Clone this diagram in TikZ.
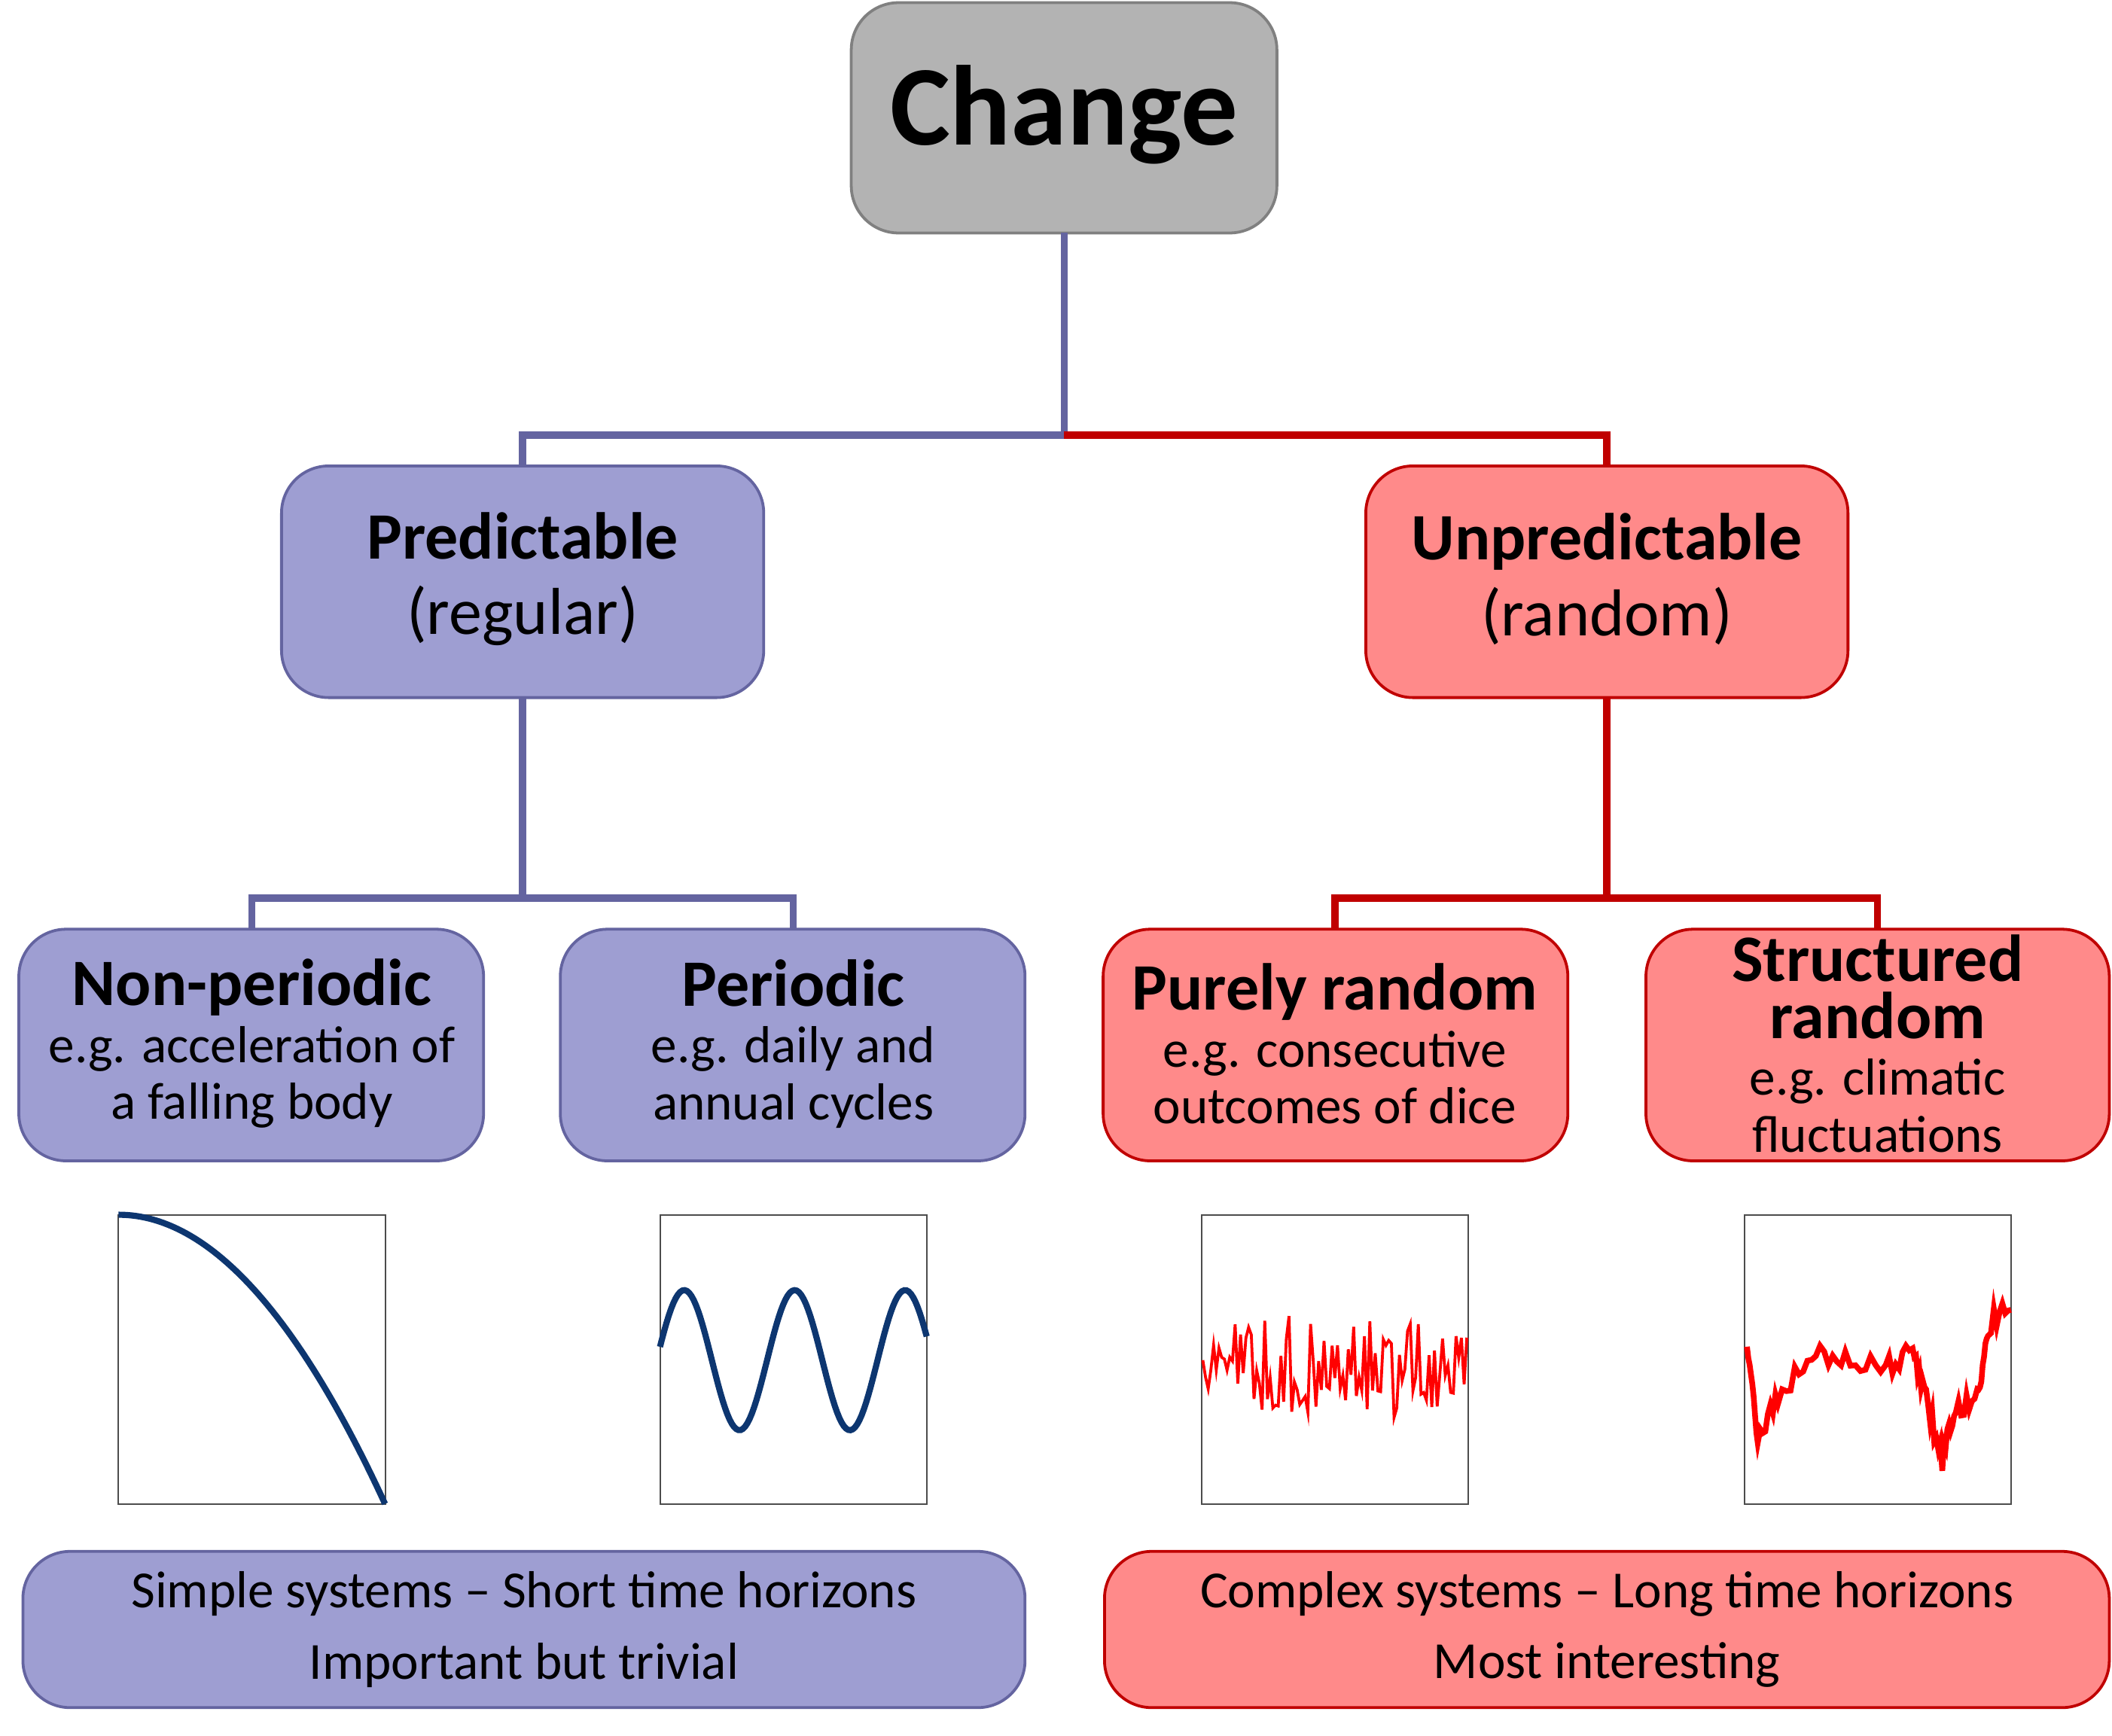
\documentclass[tikz,border=0pt]{standalone}
\usepackage{fontspec}
\setmainfont{Carlito}
\definecolor{bfill}{HTML}{9E9ED2}
\definecolor{bline}{HTML}{6464A0}
\definecolor{rfill}{HTML}{FF8A8A}
\definecolor{rline}{HTML}{C00000}
\definecolor{gfill}{HTML}{B3B3B3}
\definecolor{cdark}{HTML}{0D3670}
\newcommand{\hdfont}{\fontsize{14}{16}\selectfont\bfseries}
\newcommand{\smfont}{\fontsize{11}{12.2}\selectfont\mdseries}
\begin{document}
\begin{tikzpicture}[x=0.01cm,y=-0.01cm,
  box/.style={rounded corners=0.35cm,line width=0.6pt},
  bbox/.style={box,fill=bfill,draw=bline},
  rbox/.style={box,fill=rfill,draw=rline},
  bcon/.style={draw=bline,line width=1.5pt},
  rcon/.style={draw=rline,line width=1.5pt},
  lbl/.style={align=center,inner sep=0},
  plotbox/.style={draw=black!70,line width=0.3pt}]
\useasboundingbox (0,0) rectangle (1568,1289);
% boxes
\draw[box,fill=gfill,draw=black!50] (632,2) rectangle (948,173);
\node[lbl] (ch) at (790,85) {\fontsize{24}{28}\selectfont\bfseries Change};
\draw[bbox] (209,346) rectangle (567,518);
\node[lbl,font=\fontsize{14}{16}\selectfont] (pr) at (388,430) {\textbf{Predictable}\\(regular)};
\draw[rbox] (1014,346) rectangle (1372,518);
\node[lbl,font=\fontsize{14}{16}\selectfont] (un) at (1193,430) {\textbf{Unpredictable}\\(random)};
\draw[bbox] (14,690) rectangle (359,862);
\node[lbl] (np) at (187,775) {\hdfont Non-periodic\\ \smfont e.g. acceleration of\\ \smfont a falling body};
\draw[bbox] (416,690) rectangle (761,862);
\node[lbl] (pe) at (589,775) {\hdfont Periodic\\ \smfont e.g. daily and\\ \smfont annual cycles};
\draw[rbox] (819,690) rectangle (1164,862);
\node[lbl] (pu) at (991,775) {\hdfont Purely random\\ \smfont e.g. consecutive\\ \smfont outcomes of dice};
\draw[rbox] (1222,690) rectangle (1566,862);
\node[lbl] (st) at (1394,775) {\hdfont Structured\\ \hdfont random\\ \smfont e.g. climatic\\ \smfont fluctuations};
\draw[bbox] (17,1152) rectangle (761,1268);
\node[lbl,font=\fontsize{11}{15}\selectfont] (b1) at (389,1210) {Simple systems -- Short time horizons\\ Important but trivial};
\draw[rbox] (820,1152) rectangle (1566,1268);
\node[lbl,font=\fontsize{11}{15}\selectfont] (b2) at (1193,1210) {Complex systems -- Long time horizons\\ Most interesting};
% connectors
\draw[bcon] (790,173) -- (790,323) -- (388,323) -- (388,346);
\draw[rcon] (790,323) -- (1193,323) -- (1193,346);
\draw[bcon] (388,518) -- (388,667) -- (187,667) -- (187,690);
\draw[bcon] (388,667) -- (589,667) -- (589,690);
\draw[rcon] (1193,518) -- (1193,667) -- (991,667) -- (991,690);
\draw[rcon] (1193,667) -- (1394,667) -- (1394,690);
% plot boxes
\draw[plotbox] (88,902) rectangle (286,1117);
\draw[plotbox] (490,902) rectangle (688,1117);
\draw[plotbox] (892,902) rectangle (1090,1117);
\draw[plotbox] (1295,902) rectangle (1493,1117);
% curves
\draw[cdark,line width=1.3pt,domain=0:1,samples=60] plot ({88+198*\x},{902+215*\x*\x});
\draw[cdark,line width=1.3pt,domain=0:198,samples=120] plot ({490+\x},{1010-52*cos(4.39*(\x-18))});
\pgfmathsetseed{7}
\draw[red,line width=0.6pt] (893,1010) \foreach \i in {895,897,...,1089} { -- (\i,{1015+35*rand+15*rand*rand*rand}) };
\pgfmathsetseed{11}
\draw[red,line width=1.2pt] (1297,1000)
 \foreach \xa/\ya/\xb/\yb in {1297/1000/1305/1065,1305/1065/1320/1040,1320/1040/1345/1005,1345/1005/1370/1010,1370/1010/1400/1015,1400/1015/1420/1005,1420/1005/1430/1040,1430/1040/1442/1085,1442/1085/1452/1045,1452/1045/1468/1040,1468/1040/1476/985,1476/985/1493/968}
 { \foreach \k in {1,...,8} { -- ({\xa+(\xb-\xa)*\k/8},{\ya+(\yb-\ya)*\k/8+9*rand}) } };
\end{tikzpicture}
\end{document}
